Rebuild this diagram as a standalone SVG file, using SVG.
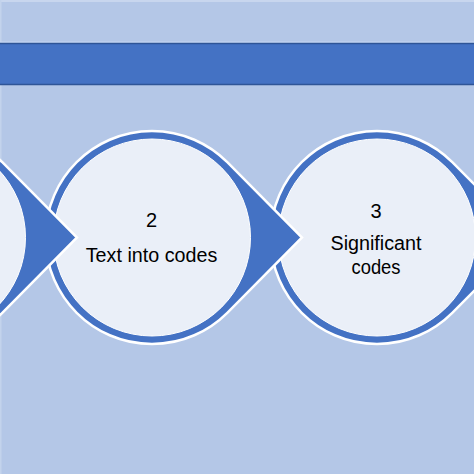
<svg xmlns="http://www.w3.org/2000/svg" width="474" height="474" viewBox="0 0 474 474">
  <defs>
    <style>
      .ring { fill: #4472C4; stroke: #FFFFFF; stroke-width: 2.5; stroke-linejoin: miter; }
      .inner { fill: #EAEFF8; stroke: #FFFFFF; stroke-width: 1; }
      .num { font-family: "Liberation Sans", Arial, sans-serif; font-size: 20px; fill: #000000; text-anchor: middle; }
      .lbl { font-family: "Liberation Sans", Arial, sans-serif; font-size: 20px; fill: #000000; text-anchor: middle; }
    </style>
    <path id="nodeShape" d="M 75.3 -75.3 L 150 0 L 75.3 75.3 A 106.5 106.5 0 1 1 75.3 -75.3 Z"/>
  </defs>
  <rect x="0" y="0" width="474" height="474" fill="#B4C7E7"/>
  <rect x="0" y="0" width="474" height="2" fill="#C8D6EE"/>
  <rect x="0" y="0" width="1.5" height="474" fill="#C3D3EC"/>
  <g id="band">
    <rect x="-2" y="41.5" width="478" height="1.5" fill="#C5D6F2"/>
    <rect x="-2" y="43.5" width="478" height="41" fill="#4472C4" stroke="#2F5597" stroke-width="1.5"/>
  </g>
  <g id="node3" transform="translate(377,237.5)">
    <use href="#nodeShape" class="ring"/>
    <circle cx="0" cy="0" r="98.5" class="inner"/>
    <text x="-1" y="-19.2" class="num">3</text>
    <text x="-1" y="12.5" class="lbl" textLength="91" lengthAdjust="spacingAndGlyphs">Significant</text>
    <text x="-1" y="36.5" class="lbl" textLength="49" lengthAdjust="spacingAndGlyphs">codes</text>
  </g>
  <g id="node2" transform="translate(152,237.5)">
    <use href="#nodeShape" class="ring"/>
    <circle cx="0" cy="0" r="98.5" class="inner"/>
    <text x="-0.5" y="-10.2" class="num">2</text>
    <text x="-0.5" y="24.8" class="lbl" textLength="131.5" lengthAdjust="spacingAndGlyphs">Text into codes</text>
  </g>
  <g id="node1" transform="translate(-73,237.5)">
    <use href="#nodeShape" class="ring"/>
    <circle cx="0" cy="0" r="98.5" class="inner"/>
  </g>
  <g id="connectors"></g>
</svg>
